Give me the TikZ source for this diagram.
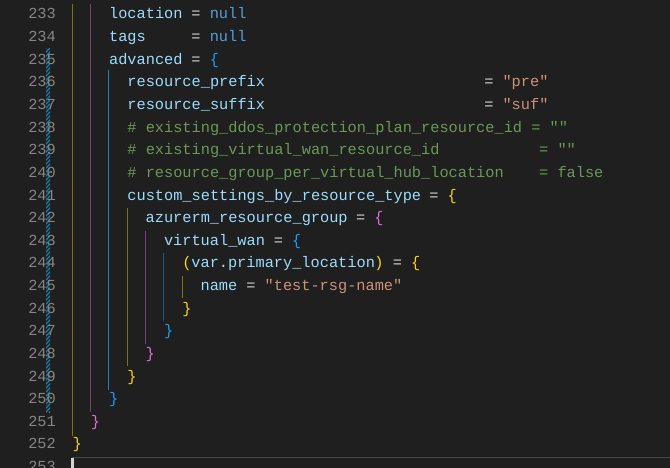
\documentclass[tikz,border=0pt]{standalone}
\usepackage{fontspec}
\setmonofont{Liberation Mono}
\usetikzlibrary{patterns}
\definecolor{bg}{HTML}{1F1F1F}
\definecolor{ln}{HTML}{858585}
\definecolor{id}{HTML}{9CDCFE}
\definecolor{kw}{HTML}{569CD6}
\definecolor{st}{HTML}{CE9178}
\definecolor{cm}{HTML}{6A9955}
\definecolor{op}{HTML}{D4D4D4}
\definecolor{bgold}{HTML}{FFD700}
\definecolor{bpink}{HTML}{DA70D6}
\definecolor{bblue}{HTML}{179FFF}
\definecolor{hatch}{HTML}{1B81A8}
\newcommand{\cw}{9.15}
\newcommand{\lnY}[1]{19+(#1-233)*22.63}
\newcommand{\tk}[4]{\node[code,text=#3] at ({54+#2*\cw},{\lnY{#1}}) {#4};}
\newcommand{\lnum}[1]{\node[lnum] at (56,{\lnY{#1}}) {#1};}
\tikzset{code/.style={anchor=base west,inner sep=0pt,font=\fontsize{15.3}{16}\ttfamily},
lnum/.style={anchor=base east,inner sep=0pt,text=ln,font=\fontsize{15.3}{16}\ttfamily},
guide/.style={line width=0.8pt}}
\begin{document}
\begin{tikzpicture}[x=1pt,y=-1pt]
\fill[bg] (0,0) rectangle (670,468);
\useasboundingbox (0,0) rectangle (670,468);
% hatch stripe
\begin{scope}
\clip (46,49) rectangle (50,412);
\foreach \k in {0,...,95} {\draw[hatch,line width=1.3pt] (45,{49+\k*4}) -- (51,{43+\k*4});}
\end{scope}
% indent guides
\draw[guide,bgold!45!bg] (72,4) -- (72,436);
\draw[guide,bpink!45!bg] (90.4,4) -- (90.4,412);
\draw[guide,bblue!75!bg] (108.8,70) -- (108.8,390);
\draw[guide,bgold!45!bg] (127,208) -- (127,366);
\draw[guide,bpink!45!bg] (145.4,231) -- (145.4,344);
\draw[guide,bblue!45!bg] (163.8,253) -- (163.8,321);
\draw[guide,bgold!45!bg] (182.2,276) -- (182.2,298);
% line numbers
\foreach \n in {233,...,253} {\lnum{\n}}
% current line
\draw[gray!40!bg,line width=1pt] (72,457) -- (670,457);
\fill[op] (71,458) rectangle (73.5,468);
% code
\tk{233}{6}{id}{location}\tk{233}{15}{op}{=}\tk{233}{17}{kw}{null}
\tk{234}{6}{id}{tags}\tk{234}{15}{op}{=}\tk{234}{17}{kw}{null}
\tk{235}{6}{id}{advanced}\tk{235}{15}{op}{=}\tk{235}{17}{bblue}{\{}
\tk{236}{8}{id}{resource\_prefix}\tk{236}{47}{op}{=}\tk{236}{49}{st}{"pre"}
\tk{237}{8}{id}{resource\_suffix}\tk{237}{47}{op}{=}\tk{237}{49}{st}{"suf"}
\tk{238}{8}{cm}{\# existing\_ddos\_protection\_plan\_resource\_id = ""}
\tk{239}{8}{cm}{\# existing\_virtual\_wan\_resource\_id}\tk{239}{53}{cm}{= ""}
\tk{240}{8}{cm}{\# resource\_group\_per\_virtual\_hub\_location}\tk{240}{53}{cm}{= false}
\tk{241}{8}{id}{custom\_settings\_by\_resource\_type}\tk{241}{41}{op}{=}\tk{241}{43}{bgold}{\{}
\tk{242}{10}{id}{azurerm\_resource\_group}\tk{242}{33}{op}{=}\tk{242}{35}{bpink}{\{}
\tk{243}{12}{id}{virtual\_wan}\tk{243}{24}{op}{=}\tk{243}{26}{bblue}{\{}
\tk{244}{14}{bgold}{(}\tk{244}{15}{id}{var}\tk{244}{18}{op}{.}\tk{244}{19}{id}{primary\_location}\tk{244}{35}{bgold}{)}\tk{244}{37}{op}{=}\tk{244}{39}{bgold}{\{}
\tk{245}{16}{id}{name}\tk{245}{21}{op}{=}\tk{245}{23}{st}{"test-rsg-name"}
\tk{246}{14}{bgold}{\}}
\tk{247}{12}{bblue}{\}}
\tk{248}{10}{bpink}{\}}
\tk{249}{8}{bgold}{\}}
\tk{250}{6}{bblue}{\}}
\tk{251}{4}{bpink}{\}}
\tk{252}{2}{bgold}{\}}
\end{tikzpicture}
\end{document}
